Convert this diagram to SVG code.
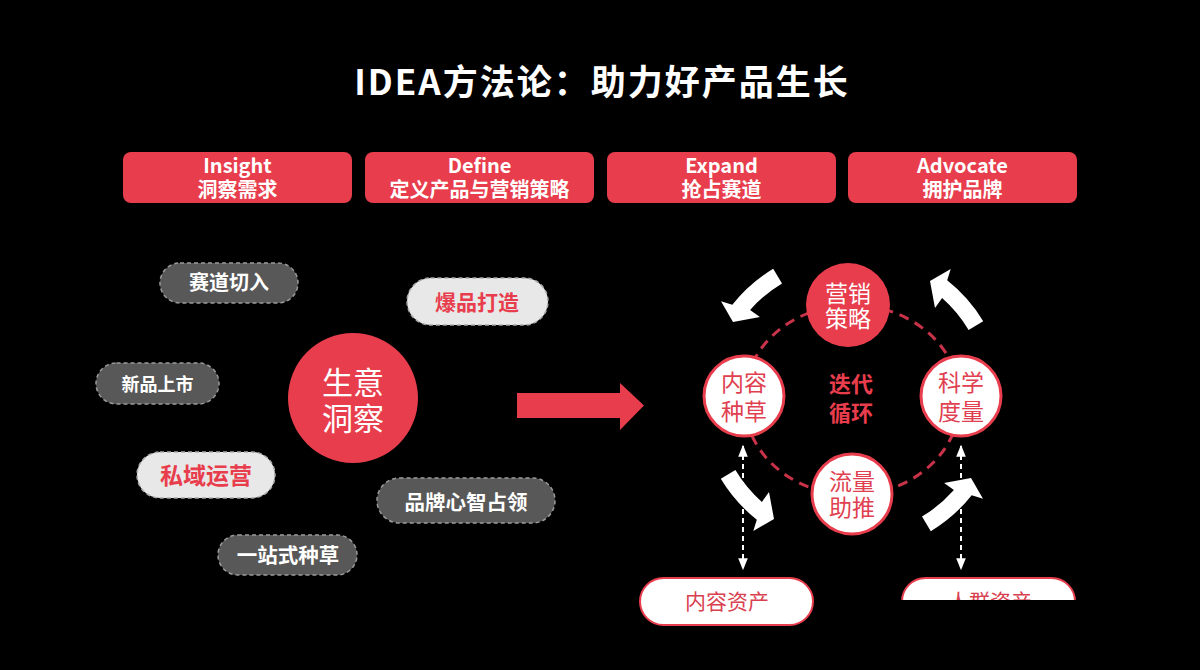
<svg xmlns="http://www.w3.org/2000/svg" width="1200" height="670" viewBox="0 0 1200 670">
<style>
text{font-family:"Noto Sans CJK SC","Noto Sans",sans-serif;text-anchor:middle}
.b{font-weight:bold}
.hdr{fill:#e83d4c}
.ht{fill:#fff;font-weight:bold;font-size:20px}
.pd{fill:#585858;stroke:#9a9a9a;stroke-width:1.5;stroke-dasharray:4 3}
.pl{fill:#e8e8e8;stroke:#aaa;stroke-width:1.5;stroke-dasharray:4 3}
.tw{fill:#fff;font-weight:bold}
.tr{fill:#e83d4c;font-weight:bold}
.wc{fill:#fff;stroke:#e83d4c;stroke-width:3}
.wt{fill:#e0404f;font-size:23px}
.ca{fill:#fff}
.dv{stroke:#fff;stroke-width:2;stroke-dasharray:5 4;fill:none}
</style>
<defs>
<marker id="ah" viewBox="0 0 10 10" refX="9" refY="5" markerWidth="6" markerHeight="6" orient="auto-start-reverse">
<path d="M0,1 L10,5 L0,9 Z" fill="#fff"/>
</marker>
<path id="carrow" d="M -78.8 -131.2 A 153 153 0 0 0 -119.7 -95.2 L -131 -98.7 L -119 -78 L -92.1 -83.0 L -101.9 -90.1 A 136 136 0 0 1 -70.0 -116.6 Z"/>
</defs>
<rect width="1200" height="670" fill="#000"/>
<text id="title" x="602" y="95" class="b" font-size="35" letter-spacing="2" fill="#fff">IDEA方法论：助力好产品生长</text>

<g id="insight"><rect class="hdr" x="123" y="152" width="229" height="51" rx="8"/><text class="ht" x="237.5" y="173">Insight</text><text class="ht" x="237.5" y="197">洞察需求</text></g>
<g id="define"><rect class="hdr" x="365" y="152" width="229" height="51" rx="8"/><text class="ht" x="479.5" y="173">Define</text><text class="ht" x="479.5" y="197">定义产品与营销策略</text></g>
<g id="expand"><rect class="hdr" x="607" y="152" width="229" height="51" rx="8"/><text class="ht" x="721.5" y="173">Expand</text><text class="ht" x="721.5" y="197">抢占赛道</text></g>
<g id="advocate"><rect class="hdr" x="848" y="152" width="229" height="51" rx="8"/><text class="ht" x="962.5" y="173">Advocate</text><text class="ht" x="962.5" y="197">拥护品牌</text></g>

<g id="p1"><rect class="pd" x="160" y="263" width="138" height="40" rx="20"/><text class="tw" x="229" y="290" font-size="20">赛道切入</text></g>
<g id="p2"><rect class="pl" x="407" y="278" width="141" height="47" rx="23.5"/><text class="tr" x="477" y="310" font-size="21">爆品打造</text></g>
<g id="p3"><rect class="pd" x="96" y="363" width="123" height="41" rx="20.5"/><text class="tw" x="157.5" y="391" font-size="18">新品上市</text></g>
<g id="p4"><rect class="pl" x="137" y="452" width="138" height="46" rx="23"/><text class="tr" x="206" y="484" font-size="23">私域运营</text></g>
<g id="p5"><rect class="pd" x="377" y="478" width="178" height="45" rx="22.5"/><text class="tw" x="466" y="510" font-size="20.5">品牌心智占领</text></g>
<g id="p6"><rect class="pd" x="218" y="535" width="139" height="40" rx="20"/><text class="tw" x="288" y="563" font-size="20.5">一站式种草</text></g>
<g id="core"><circle cx="353" cy="398" r="65" fill="#e83d4c"/><text x="353" y="394" font-size="31" fill="#fff">生意</text><text x="353" y="430" font-size="31" fill="#fff">洞察</text></g>

<g id="connectors">
<path d="M517 393 H620 V383 L644 405.5 L620 430 V418 H517 Z" fill="#e83d4c"/>
<ellipse cx="852" cy="400" rx="108" ry="95" fill="none" stroke="#c9334a" stroke-width="3" stroke-dasharray="10 7"/>
<use href="#carrow" class="ca" transform="translate(852,400)"/>
<use href="#carrow" class="ca" transform="translate(852,400) rotate(-90)"/>
<use href="#carrow" class="ca" transform="translate(852,400) rotate(180)"/>
<use href="#carrow" class="ca" transform="translate(852,400) rotate(90)"/>
<line class="dv" x1="743" y1="446" x2="743" y2="569" marker-start="url(#ah)" marker-end="url(#ah)"/>
<line class="dv" x1="961" y1="446" x2="961" y2="569" marker-start="url(#ah)" marker-end="url(#ah)"/>
</g>

<g id="marketing"><circle cx="848" cy="305" r="42" fill="#e83d4c"/><text x="848" y="302" font-size="23" fill="#fff">营销</text><text x="848" y="327" font-size="23" fill="#fff">策略</text></g>
<g id="content"><circle class="wc" cx="744" cy="396" r="40"/><text class="wt" x="744" y="391">内容</text><text class="wt" x="744" y="420">种草</text></g>
<g id="science"><circle class="wc" cx="961" cy="396" r="40"/><text class="wt" x="961" y="391">科学</text><text class="wt" x="961" y="420">度量</text></g>
<g id="traffic"><circle class="wc" cx="852" cy="494" r="40"/><text class="wt" x="852" y="490">流量</text><text class="wt" x="852" y="516">助推</text></g>
<g id="iterate"><text class="tr" x="851" y="392" font-size="22">迭代</text><text class="tr" x="851" y="421" font-size="22">循环</text></g>

<g id="asset1"><rect x="640" y="578" width="173" height="47" rx="23.5" fill="#fff" stroke="#e83d4c" stroke-width="2"/><text x="727" y="609" font-size="21" fill="#d8404f">内容资产</text></g>
<g id="asset2"><rect x="902" y="578" width="173" height="47" rx="23.5" fill="#fff" stroke="#e83d4c" stroke-width="2"/><text x="990" y="609" font-size="21" fill="#d8404f">人群资产</text><rect x="896" y="600" width="196" height="70" fill="#000"/></g>
</svg>
